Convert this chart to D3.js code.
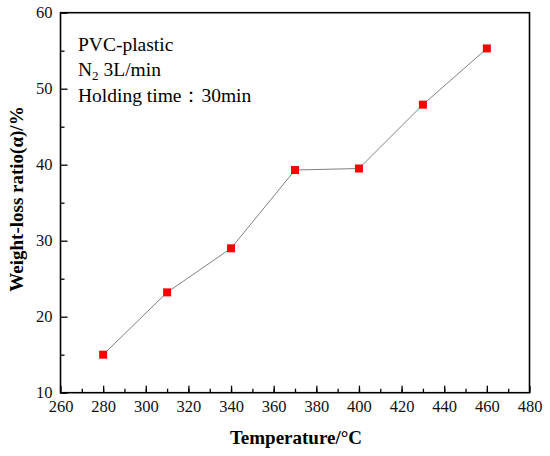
<!DOCTYPE html>
<html>
<head>
<meta charset="utf-8">
<script src="https://cdn.jsdelivr.net/npm/d3@7"></script>
<style>
  body { margin: 0; background: #fff; }
  svg { display: block; }
</style>
</head>
<body>
<svg id="chart" width="550" height="456"></svg>
<script>
// data
const temperature = [280, 310, 340, 370, 400, 430, 460];
const weightLoss = [15.0, 23.2, 29.0, 39.3, 39.5, 47.9, 55.3];
const xTicks = [260, 280, 300, 320, 340, 360, 380, 400, 420, 440, 460, 480];
const yTicks = [10, 20, 30, 40, 50, 60];
const notes = ["PVC-plastic", "N2 3L/min", "Holding time：30min"];

const svg = d3.select("#chart");
const font = "'Liberation Serif', 'Times New Roman', serif";

// plot area
const plotLeft = 60.5, plotRight = 529.5, plotTop = 12.7, plotBottom = 392.7;

let xScale = d3.scaleLinear().domain([260, 480]).range([plotLeft, plotRight]);
let yScale = d3.scaleLinear().domain([10, 60]).range([plotBottom, plotTop]);

// x axis (ticks pointing in)
let xMinor = svg.append("g")
  .attr("transform", "translate(0," + plotBottom + ")")
  .call(d3.axisBottom(xScale).tickValues(d3.range(270, 480, 10)).tickSize(-4).tickFormat(""));
xMinor.select(".domain").remove();

let xMajor = svg.append("g")
  .attr("transform", "translate(0," + plotBottom + ")")
  .call(d3.axisBottom(xScale).tickValues(xTicks).tickSize(-7).tickPadding(8).tickFormat(d3.format("d")));
xMajor.select(".domain").remove();
xMajor.selectAll("text")
  .style("font-family", font).style("font-size", "16.5px").attr("fill", "#111");

// y axis
let yMinor = svg.append("g")
  .attr("transform", "translate(" + plotLeft + ",0)")
  .call(d3.axisLeft(yScale).tickValues(d3.range(15, 60, 10)).tickSize(-4).tickFormat(""));
yMinor.select(".domain").remove();

let yMajor = svg.append("g")
  .attr("transform", "translate(" + plotLeft + ",0)")
  .call(d3.axisLeft(yScale).tickValues(yTicks).tickSize(-7).tickPadding(8).tickFormat(d3.format("d")));
yMajor.select(".domain").remove();
yMajor.selectAll("text")
  .style("font-family", font).style("font-size", "16.5px").attr("fill", "#111");

svg.selectAll(".tick line").attr("stroke", "#000").attr("stroke-width", 1.3);

// frame
svg.append("rect")
  .attr("x", plotLeft).attr("y", plotTop)
  .attr("width", plotRight - plotLeft).attr("height", plotBottom - plotTop)
  .attr("fill", "none").attr("stroke", "#000").attr("stroke-width", 1.6);

// data line
let points = temperature.map((t, i) => [t, weightLoss[i]]);
svg.append("path")
  .datum(points)
  .attr("fill", "none")
  .attr("stroke", "#808080")
  .attr("stroke-width", 1)
  .attr("d", d3.line().x(d => xScale(d[0])).y(d => yScale(d[1])));

// square markers
svg.append("g")
  .selectAll("rect")
  .data(points)
  .enter()
  .append("rect")
  .attr("x", d => xScale(d[0]) - 4)
  .attr("y", d => yScale(d[1]) - 4)
  .attr("width", 8)
  .attr("height", 8)
  .attr("fill", "#ff0000");

// annotation text
let note = svg.append("g")
  .style("font-family", font)
  .style("font-size", "19.5px")
  .attr("fill", "#000");
note.append("text").attr("x", 78).attr("y", 51).text(notes[0]);
let n2 = note.append("text").attr("x", 78).attr("y", 76);
n2.append("tspan").text("N");
n2.append("tspan").attr("dy", 4).style("font-size", "13px").text("2");
n2.append("tspan").attr("dy", -4).text(" 3L/min");
note.append("text").attr("x", 78).attr("y", 102).text(notes[2]);

// axis titles
svg.append("text")
  .attr("x", (plotLeft + plotRight) / 2 + 1)
  .attr("y", 444)
  .attr("text-anchor", "middle")
  .style("font-family", font)
  .style("font-size", "19px")
  .style("font-weight", "bold")
  .text("Temperature/°C");

svg.append("text")
  .attr("transform", "translate(23,199) rotate(-90)")
  .attr("text-anchor", "middle")
  .style("font-family", font)
  .style("font-size", "19px")
  .style("font-weight", "bold")
  .text("Weight-loss ratio(α)/%");
</script>
</body>
</html>
